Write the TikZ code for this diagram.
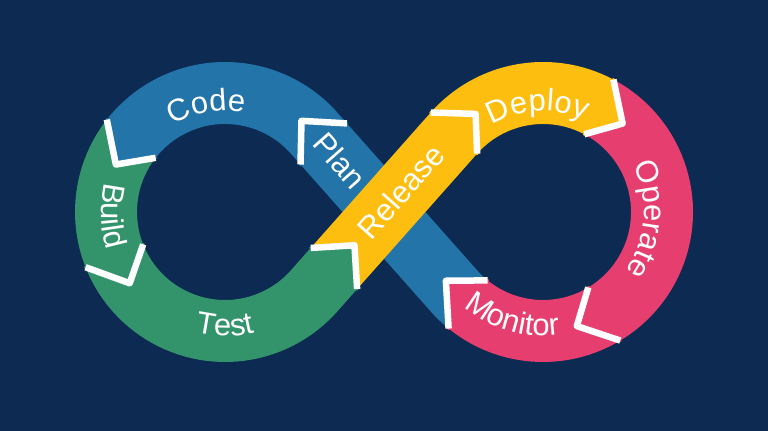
\documentclass[tikz,border=0pt]{standalone}
\usepackage{fontspec}
\newfontfamily\stagesf{Liberation Sans}
\usepackage{xcolor}
\usepackage{tikz}
\usetikzlibrary{calc, decorations.text}

\definecolor{bgnavy}{HTML}{0C2A52}
\definecolor{devblue}{HTML}{2274A9}
\definecolor{devgreen}{HTML}{33946C}
\definecolor{devyellow}{HTML}{FDBE10}
\definecolor{devpink}{HTML}{E63F6F}

\newcommand{\stagefont}{\stagesf\fontsize{17.6}{20}\selectfont\color{white}}
% head of a stage: #1 colour, #2 outer end, #3 tip, #4 inner end
\newcommand{\headmark}[4]{%
  \filldraw[fill=#1, draw=#1, line width=0.06cm, line join=round] #2 -- #3 -- #4 -- cycle;
  \draw[chevron] #2 -- #3 -- #4;}

\begin{document}
\begin{tikzpicture}[
    x=0.02cm, y=0.02cm,
    band/.style={line width=1.24cm},
    chevron/.style={white, line width=0.13cm, line join=round},
    stagelabel/.style={decorate, decoration={text along path, text align=center}},
  ]
  \fill[bgnavy] (0,0) rectangle (768,431);

  % loop centres and tangent points
  \coordinate (C1) at (225,219);
  \coordinate (C2) at (543,219);
  \coordinate (L1) at ($(C1)+(-41.55:119)$);
  \coordinate (L2) at ($(C1)+(41.55:119)$);
  \coordinate (R1) at ($(C2)+(138.45:119)$);
  \coordinate (R2) at ($(C2)+(221.55:119)$);
  \coordinate (pc) at ($(L2)!0.069!(R2)$);
  \coordinate (tr) at ($(L1)!0.142!(R1)$);
  \coordinate (tra) at ($(L1)!0.289!(R1)$);

  % stages
  \draw[band, devblue] ($(C2)+(231:119)$) arc[start angle=231, end angle=221.55, radius=119] -- (pc);
  \draw[band, devblue] (pc) -- (L2) arc[start angle=41.55, end angle=142, radius=119];
  \draw[band, devgreen] ($(C1)+(142:119)$) arc[start angle=142, end angle=201.6, radius=119];
  \draw[band, devgreen] ($(C1)+(201.6:119)$) arc[start angle=201.6, end angle=318.45, radius=119] -- (tr);
  \draw[band, devyellow] (R1) arc[start angle=138.45, end angle=62, radius=119];
  \draw[band, devpink] ($(C2)+(62:119)$) arc[start angle=62, end angle=-59, radius=119];
  \draw[band, devpink] ($(C2)+(-59:119)$) arc[start angle=-59, end angle=-129, radius=119];
  \draw[band, devyellow] (tr) -- (R1);

  % chevrons between stages
  \headmark{devblue}{($(pc)!0.62cm!90:(R2)$)}{($(C1)+(50:119)$)}{($(pc)!0.62cm!-90:(R2)$)}
  \headmark{devblue}{($(C1)+(142:150)$)}{($(C1)+(156.5:119)$)}{($(C1)+(142:88)$)}
  \headmark{devgreen}{($(C1)+(201.6:150)$)}{($(C1)+(216.8:119)$)}{($(C1)+(201.6:88)$)}
  \headmark{devgreen}{($(tr)!0.62cm!90:(R1)$)}{(tra)}{($(tr)!0.62cm!-90:(R1)$)}
  \headmark{devyellow}{($(C2)+(138.45:150)$)}{($(C2)+(124.5:119)$)}{($(C2)+(138.45:88)$)}
  \headmark{devyellow}{($(C2)+(62:150)$)}{($(C2)+(48:119)$)}{($(C2)+(62:88)$)}
  \headmark{devpink}{($(C2)+(-59:150)$)}{($(C2)+(-73.5:119)$)}{($(C2)+(-59:88)$)}
  \headmark{devpink}{($(C2)+(-129:150)$)}{($(C2)+(-144.7:119)$)}{($(C2)+(-129:88)$)}

  % labels
  \path[stagelabel, decoration={text={|\stagefont|Code}}] ($(C1)+(130:101)$) arc[start angle=130, end angle=70, radius=101];
  \path[stagelabel, decoration={text={|\stagefont|Build}}] ($(C1)+(152:124)$) arc[start angle=152, end angle=212, radius=124];
  \path[stagelabel, decoration={text={|\stagefont|Test}}] ($(C1)+(240:124)$) arc[start angle=240, end angle=300, radius=124];
  \path[stagelabel, decoration={text={|\stagefont|Plan}}] ($(L2)+(-7.48,-6.63)$) -- ($(L2)!0.36!(R2)+(-7.48,-6.63)$);
  \path[stagelabel, decoration={text={|\stagefont|Release}}] ($(L1)!0.332!(R1)+(7.48,-6.63)$) -- ($(L1)!0.919!(R1)+(7.48,-6.63)$);
  \path[stagelabel, decoration={text={|\stagefont|Deploy}}] ($(C2)+(128:101)$) arc[start angle=128, end angle=58, radius=101];
  \path[stagelabel, decoration={text={|\stagefont|Operate}}] ($(C2)+(40:101)$) arc[start angle=40, end angle=-48, radius=101];
  \path[stagelabel, decoration={text={|\stagefont|Monitor}}] ($(C2)+(-136:124)$) arc[start angle=-136, end angle=-76, radius=124];
\end{tikzpicture}
\end{document}
